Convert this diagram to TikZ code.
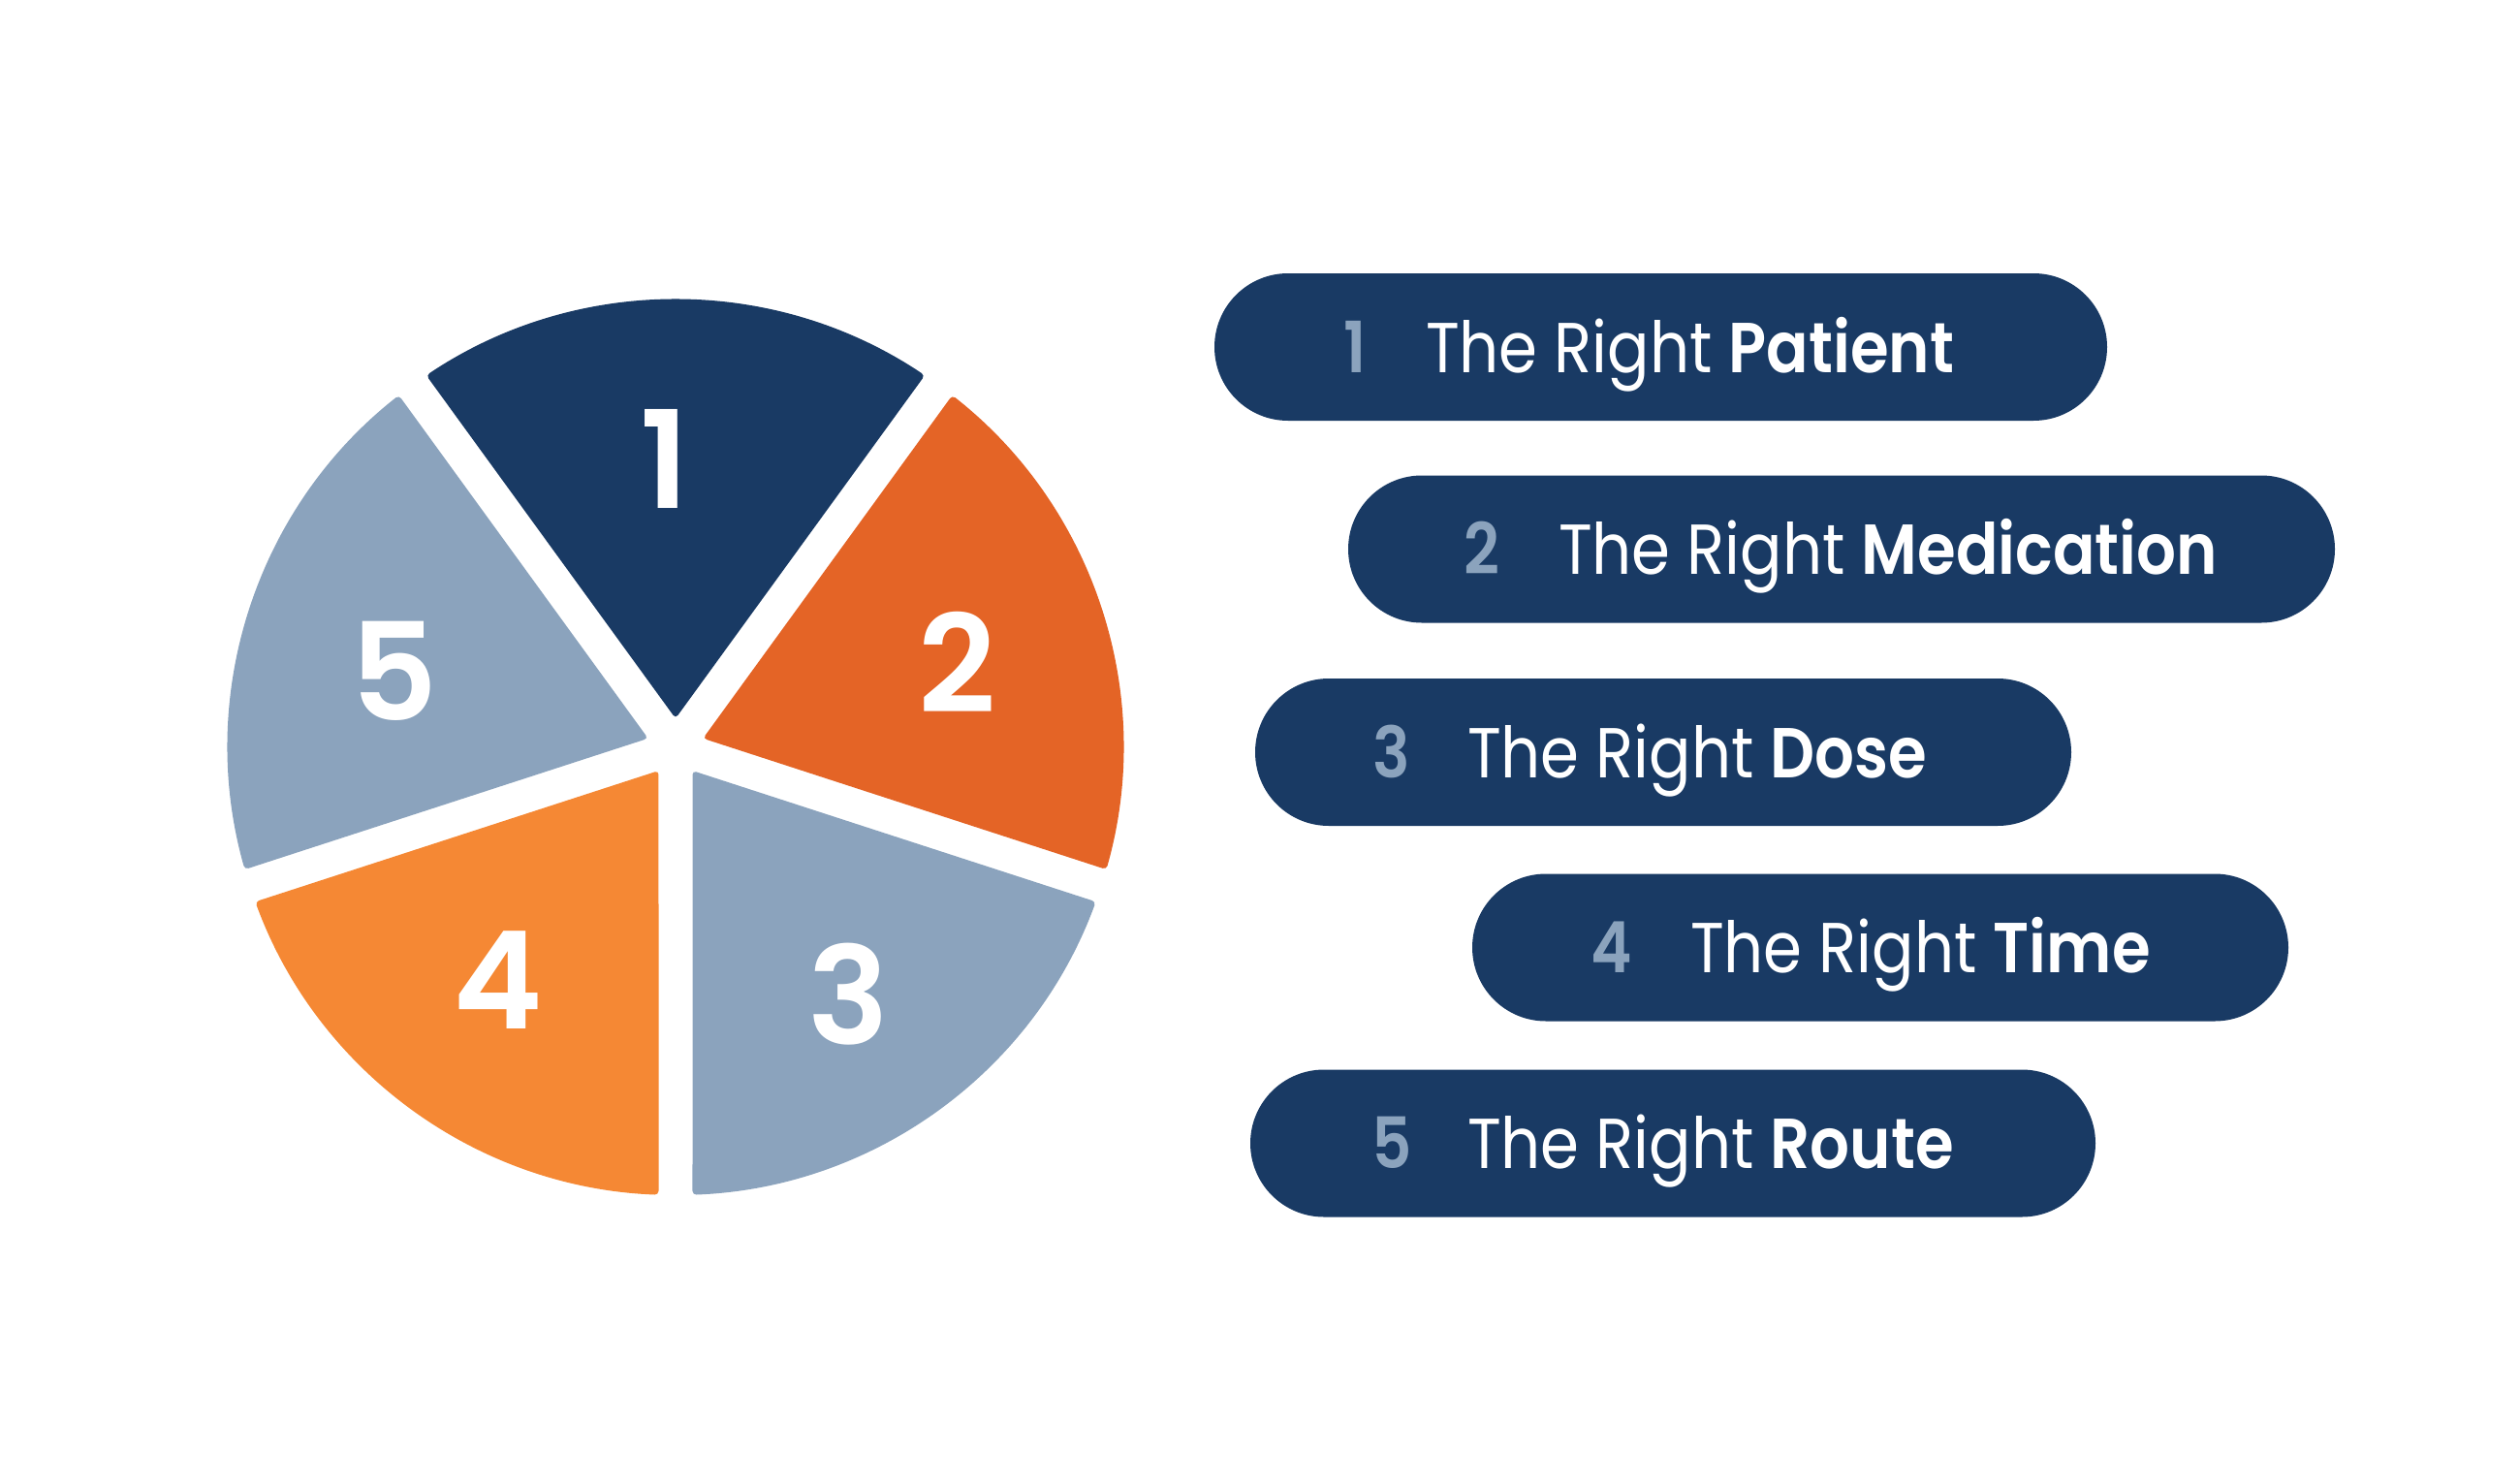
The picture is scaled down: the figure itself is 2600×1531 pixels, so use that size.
\documentclass[tikz,border=0pt]{standalone}
\usepackage{fontspec}
\setmainfont{Poppins}
\newfontfamily\pillfont[FakeStretch=0.88, BoldFont={Poppins SemiBold}]{Poppins}
\newfontfamily\piefont[BoldFont={Poppins SemiBold}]{Poppins}
\definecolor{navy}{HTML}{193A64}
\definecolor{grayblue}{HTML}{8BA3BD}
\definecolor{darkorange}{HTML}{E46426}
\definecolor{lightorange}{HTML}{F58834}
\tikzset{
  pill/.style={rectangle, rounded corners=76pt, fill=navy, minimum height=152pt, inner sep=0pt},
  pienum/.style={text=white, font=\piefont\fontsize{140}{144}\selectfont\bfseries, inner sep=0pt},
  pillnum/.style={text=grayblue, font=\pillfont\fontsize{73}{80}\selectfont\bfseries, inner sep=0pt, anchor=base},
  pilltext/.style={text=white, font=\pillfont\fontsize{73}{80}\selectfont, inner sep=0pt, anchor=base west},
  wedge/.style={rounded corners=4pt}
}
% wedge between angles #1 and #2 (72 degrees apart), colour #3
\newcommand{\pieWedge}[3]{%
  \fill[wedge, #3] ({(#1+#2)/2}:29.8) -- ({#1+2.17}:462)
    arc[start angle={#1+2.17}, end angle={#2-2.17}, radius=462] -- cycle;}
\begin{document}
\begin{tikzpicture}[x=1pt, y=-1pt]
\useasboundingbox (0,0) rectangle (2600,1531);
\fill[white] (0,0) rectangle (2600,1531);
% pie
\begin{scope}[shift={(697,771)}, y=1pt]
  \pieWedge{54}{126}{navy}
  \pieWedge{-18}{54}{darkorange}
  \pieWedge{-90}{-18}{grayblue}
  \pieWedge{198}{270}{lightorange}
  \pieWedge{126}{198}{grayblue}
\end{scope}
\node[pienum] (n1) at (686,473) {1};
\node[pienum] (n2) at (988,683) {2};
\node[pienum] (n3) at (875,1026) {3};
\node[pienum] (n4) at (514,1011) {4};
\node[pienum] (n5) at (407,692) {5};
% pills
\node[pill, minimum width=921pt] (p1) at (1713.5,358) {};
\node[pill, minimum width=1018pt] (p2) at (1900,566.5) {};
\node[pill, minimum width=842pt] (p3) at (1716,776) {};
\node[pill, minimum width=842pt] (p4) at (1940,977.5) {};
\node[pill, minimum width=872pt] (p5) at (1726,1179.5) {};
\node[pillnum] (k1) at ([xshift=145pt,yshift=-26pt]p1.west) {1};
\node[pillnum] (k2) at ([xshift=138pt,yshift=-26pt]p2.west) {2};
\node[pillnum] (k3) at ([xshift=141pt,yshift=-26pt]p3.west) {3};
\node[pillnum] (k4) at ([xshift=144pt,yshift=-26pt]p4.west) {4};
\node[pillnum] (k5) at ([xshift=146pt,yshift=-26pt]p5.west) {5};
\node[pilltext] (t1) at ([xshift=218pt,yshift=-26pt]p1.west) {The Right \textbf{Patient}};
\node[pilltext] (t2) at ([xshift=217pt,yshift=-26pt]p2.west) {The Right \textbf{Medication}};
\node[pilltext] (t3) at ([xshift=219pt,yshift=-26pt]p3.west) {The Right \textbf{Dose}};
\node[pilltext] (t4) at ([xshift=225pt,yshift=-26pt]p4.west) {The Right \textbf{Time}};
\node[pilltext] (t5) at ([xshift=224pt,yshift=-26pt]p5.west) {The Right \textbf{Route}};
\end{tikzpicture}
\end{document}
